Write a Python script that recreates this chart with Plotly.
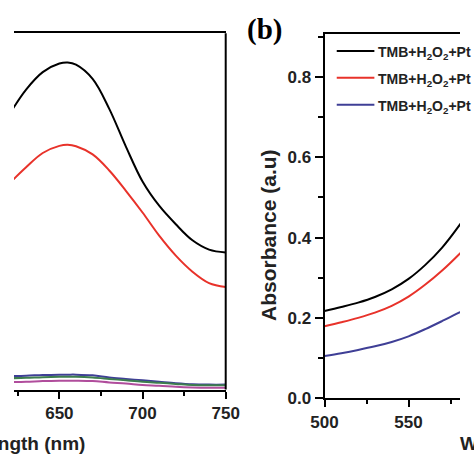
import plotly.graph_objects as go

# ---- data: panel (a) (only the right part is visible) ----
wl_a = [620, 630, 640, 650, 655, 660, 670, 680, 690, 700, 710, 720, 730, 740, 750]
a_black = [0.773, 0.842, 0.891, 0.915, 0.918, 0.912, 0.872, 0.788, 0.682, 0.584, 0.516, 0.464, 0.419, 0.393, 0.385]
a_red = [0.579, 0.624, 0.664, 0.684, 0.687, 0.683, 0.660, 0.615, 0.558, 0.497, 0.432, 0.376, 0.331, 0.299, 0.288]
a_blue = [0.038, 0.039, 0.041, 0.042, 0.042, 0.042, 0.040, 0.034, 0.030, 0.026, 0.022, 0.018, 0.015, 0.014, 0.014]
a_green = [0.032, 0.033, 0.035, 0.036, 0.036, 0.036, 0.034, 0.030, 0.026, 0.022, 0.019, 0.016, 0.013, 0.012, 0.012]
a_magenta = [0.021, 0.022, 0.024, 0.025, 0.025, 0.025, 0.024, 0.020, 0.017, 0.013, 0.011, 0.008, 0.006, 0.005, 0.005]

# ---- data: panel (b) ----
wl_b = [500, 510, 520, 530, 540, 550, 560, 570, 580, 585]
b_black = [0.217, 0.227, 0.238, 0.252, 0.271, 0.297, 0.332, 0.375, 0.429, 0.460]
b_red = [0.179, 0.189, 0.200, 0.213, 0.230, 0.253, 0.283, 0.318, 0.358, 0.380]
b_blue = [0.105, 0.112, 0.120, 0.129, 0.140, 0.154, 0.172, 0.192, 0.213, 0.225]
legend_names = ["TMB+H<sub>2</sub>O<sub>2</sub>+Pt NPs",
                "TMB+H<sub>2</sub>O<sub>2</sub>+Pt NPs+Cys",
                "TMB+H<sub>2</sub>O<sub>2</sub>+Pt NPs+GSH"]

W = H = 474
FONT = "Liberation Sans, Arial, sans-serif"
BLACK, RED, BLUE = "#000000", "#e8322a", "#3f3f96"

fig = go.Figure()
for y, c in [(a_black, BLACK), (a_red, RED), (a_blue, BLUE), (a_green, "#3d7d4e"), (a_magenta, "#b04d9c")]:
    fig.add_trace(go.Scatter(x=wl_a, y=y, mode="lines", line=dict(color=c, width=2, shape="spline"),
                             showlegend=False, xaxis="x", yaxis="y"))
b_colors = [BLACK, RED, BLUE]
for i, y in enumerate([b_black, b_red, b_blue]):
    fig.add_trace(go.Scatter(x=wl_b, y=y, mode="lines", line=dict(color=b_colors[i], width=2, shape="spline"),
                             name=legend_names[i], showlegend=False, xaxis="x2", yaxis="y2"))

tickfont = dict(family=FONT, size=17, color="#222", weight="bold")
axline = dict(showline=True, linecolor="black", linewidth=2, ticks="outside", tickcolor="black",
              tickwidth=2, showgrid=False, zeroline=False)

fig.update_layout(
    width=W, height=H, margin=dict(l=0, r=0, t=0, b=0),
    paper_bgcolor="white", plot_bgcolor="white", showlegend=False,
    xaxis=dict(domain=[0, 225 / W], range=[650 - 48 * 50 / 88, 750], dtick=50, tick0=0, ticklen=7,
               minor=dict(dtick=25, tick0=0, ticklen=4, tickwidth=2, tickcolor="black", ticks="outside"),
               mirror=True, tickfont=tickfont, anchor="y", **axline),
    yaxis=dict(domain=[1 - 398 / H, 1 - 34 / H], range=[0, 1.0], visible=False, anchor="x"),
    xaxis2=dict(domain=[330 / W, 1], range=[500, 500 + 144 * 50 / 89.3], dtick=50, tick0=0, ticklen=7,
                minor=dict(dtick=25, tick0=0, ticklen=4, tickwidth=2, tickcolor="black", ticks="outside"),
                mirror=True, tickfont=tickfont, anchor="y2", **axline),
    yaxis2=dict(domain=[1 - 406.7 / H, 1 - 35 / H], range=[0, (406.7 - 35) / 410], dtick=0.2, tick0=0,
                tickformat=".1f", ticklen=8,
                minor=dict(dtick=0.1, tick0=0, ticklen=5, tickwidth=2, tickcolor="black", ticks="outside"),
                tickfont=tickfont, anchor="x2", **axline),
)

# right frame line of panel (a)
fig.add_shape(type="line", xref="x domain", yref="y domain", x0=1, x1=1, y0=0, y1=1,
              line=dict(color="black", width=2))

# legend of panel (b), drawn as sample lines + labels
for i, name in enumerate(legend_names):
    py = 52 + i * 27.5
    fig.add_shape(type="line", xref="paper", yref="paper", x0=343 / W, x1=383 / W,
                  y0=1 - py / H, y1=1 - py / H, line=dict(color=b_colors[i], width=2))
    fig.add_annotation(text=name, xref="paper", yref="paper", x=385 / W, y=1 - (py + 2) / H,
                       xanchor="left", yanchor="middle", showarrow=False,
                       font=dict(family=FONT, size=14, color="#222", weight="bold"))

titlefont = dict(family=FONT, size=19, color="#222", weight="bold")
fig.add_annotation(text="Wavelength (nm)", xref="paper", yref="paper", x=-5 / W, y=1 - 453 / H,
                   xanchor="center", yanchor="middle", showarrow=False, font=titlefont)
fig.add_annotation(text="Wavelength (nm)", xref="paper", yref="paper", x=472 / W, y=1 - 453 / H,
                   xanchor="left", yanchor="middle", showarrow=False, font=titlefont)
fig.add_annotation(text="Absorbance (a.u)", xref="paper", yref="paper", x=271 / W, y=1 - 240 / H,
                   xanchor="center", yanchor="middle", showarrow=False, textangle=-90,
                   font=dict(family=FONT, size=21, color="#222", weight="bold"))
fig.add_annotation(text="(b)", xref="paper", yref="paper", x=266 / W, y=1 - 30 / H,
                   xanchor="center", yanchor="middle", showarrow=False,
                   font=dict(family="Liberation Serif, Times New Roman, serif", size=29, color="black",
                             weight="bold"))

fig.write_html("out.html")
